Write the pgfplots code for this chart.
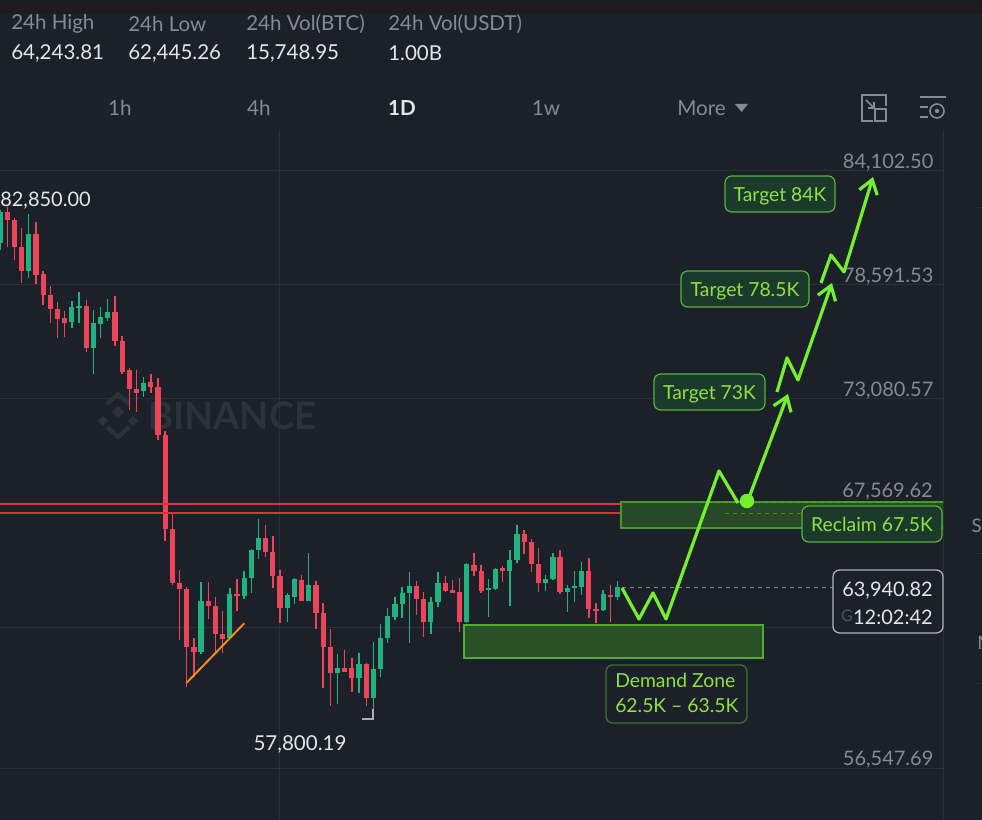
\documentclass[border=0pt]{standalone}
\usepackage{fontspec}
\setmainfont{Lato}
\usepackage{pgfplots}
\usepackage{pgfplotstable}
\pgfplotsset{compat=1.18}
\usetikzlibrary{arrows.meta}
\definecolor{bgc}{HTML}{1B2029}
\definecolor{strip}{HTML}{1C1C1F}
\definecolor{gridc}{HTML}{2A2F38}
\definecolor{axt}{HTML}{858A93}
\definecolor{wht}{HTML}{E4E6E9}
\definecolor{cred}{HTML}{EC4458}
\definecolor{cgreen}{HTML}{22B180}
\definecolor{lime}{HTML}{74F02E}
\definecolor{limet}{HTML}{8FE33E}
\definecolor{zonef}{HTML}{2B5A27}
\definecolor{zoned}{HTML}{5FCB3A}
\definecolor{boxf}{HTML}{1C3A2C}
\definecolor{boxd}{HTML}{55B53A}
\definecolor{wm}{HTML}{2C323B}
\definecolor{redl}{HTML}{DC3539}
\pgfplotstableread{
x open high low close
0 80622 82217 80284 82120
28.7 79269 82024 78930 81057
71.8 76803 77818 76513 77528
79 77480 78253 76755 77576
93.3 75546 77383 74289 76755
100.5 76707 77528 76030 77045
107.7 76997 77915 76851 77287
143.6 73468 74144 73178 73854
201 60851 64234 60754 63316
229.8 61527 63945 61527 63654
244.1 63558 64766 63413 64428
251.3 64428 65830 63703 65782
258.5 65782 67280 65347 66362
287.2 62978 63703 62301 63606
294.4 63510 64428 63171 64380
308.7 63316 65636 63316 64090
337.5 59836 60754 58338 60078
359 59594 60803 58869 60271
373.4 58627 61334 57612 60029
380.5 60029 62204 59642 61527
387.7 61527 62978 61286 62591
394.9 62543 63510 62398 63171
402.1 63171 63993 62494 63703
409.3 63703 64718 61286 64041
430.8 62301 63510 61721 63268
438 63268 64718 63026 64187
466.7 62301 65153 62253 65105
488.2 63848 64380 62543 63945
495.4 63896 64911 63848 64863
509.8 64766 65782 63075 65298
517 65298 66990 65153 66555
545.7 64187 64573 63799 64380
552.9 64380 65636 64331 65443
567.2 63751 64090 62784 63945
574.4 63945 64766 63268 64041
581.6 63993 65201 63606 64766
603.1 62881 63848 62833 63654
617.5 63510 64283 63365 63993
}\upT
\pgfplotstableread{
x open high low close
7.2 82120 82362 80429 81734
14.4 81734 81831 79800 80429
21.5 80429 81347 78688 79269
35.9 81057 81637 78640 79075
43.1 79123 79269 77625 78108
50.3 78108 78543 76755 77432
57.4 77432 77770 76030 76948
64.6 76997 77335 76078 76755
86.2 77576 77867 75353 75546
114.9 77287 78060 75643 75885
122.1 75885 76127 74289 74386
129.2 74483 74579 72549 73564
136.4 73564 74483 72453 73371
150.8 73903 74289 73371 73661
158 73661 74096 71099 71341
165.1 71341 71534 66217 66797
172.3 66797 67522 64090 64187
179.5 64187 64815 61431 63896
186.7 63896 63993 59159 61093
193.9 61093 61527 59642 60851
208.2 63316 64234 62446 63075
215.4 63075 63510 60803 61721
222.6 61721 62833 60803 61479
236.9 63654 64380 62833 63558
265.7 66362 66990 65443 65685
272.8 65685 66458 63945 64525
280 64525 64815 62253 62978
301.6 64331 64573 63316 63316
315.9 64090 64283 61963 62736
323.1 62736 63220 59111 61093
330.3 61093 61963 58241 59836
344.6 60078 60948 59884 59884
351.8 60078 60561 58917 59594
366.2 60271 60319 58241 58627
416.4 64041 64283 62639 63413
423.6 63413 63751 61576 62301
445.2 64187 64525 63751 63799
452.3 63848 64331 63703 63703
459.5 63751 64428 61818 62301
473.9 65057 65636 64525 64766
481.1 64766 65057 63703 63799
502.6 64911 65008 64234 64766
524.1 66555 66748 65588 66168
531.3 66168 66313 64718 65105
538.5 65105 65878 63751 64187
560 65443 65782 63654 63751
588.8 64766 65395 62494 62929
595.9 62929 63220 62253 62833
610.3 63606 64090 62301 63510
}\downT
\begin{document}
\begin{tikzpicture}
\useasboundingbox (0,0) rectangle (736.5pt,615pt);
\clip (0,0) rectangle (736.5pt,615pt);
\begin{scope}[shift={(0,615pt)},x=0.75pt,y=-0.75pt]
\fill[bgc] (0,0) rectangle (982,820);
\fill[strip] (0,0) rectangle (982,14);
\draw[gridc,line width=0.75pt] (943,130) -- (943,820);
% watermark
\node[anchor=west,inner sep=0,text=wm,font=\fontsize{28.4pt}{28.4pt}\selectfont\bfseries] at (148,416) {BINANCE};
\fill[wm] (118,406) -- (124,412) -- (118,418) -- (112,412) -- cycle;
\fill[wm] (103,416) -- (108,421) -- (103,426) -- (98,421) -- cycle;
\fill[wm] (133,416) -- (138,421) -- (133,426) -- (128,421) -- cycle;
\draw[wm,line width=3.2pt] (107,404) -- (118,394) -- (129,404);
\draw[wm,line width=3.2pt] (107,427) -- (118,437) -- (129,427);
\end{scope}
\begin{axis}[
  at={(0,0)},anchor=south west,
  scale only axis,width=707.25pt,height=517.5pt,
  xmin=0,xmax=943,ymin=52729.8,ymax=86084.4,
  scaled y ticks=false,
  axis line style={draw=none},
  major tick length=0pt,
  xtick={279},xticklabels={},
  ytick={84102.5,78591.53,73080.57,62058,55243},
  yticklabels={{84,102.50},{78,591.53},{73,080.57},{},{56,547.69}},
  yticklabel pos=right,
  yticklabel style={anchor=east,inner sep=0pt,xshift=-7pt,yshift=6pt,text=axt,font=\fontsize{15pt}{15pt}\selectfont},
  grid=major,grid style={gridc,line width=0.75pt},
  clip=true,
]
% candles
\addplot[draw=none,mark=none,error bars/.cd,y dir=plus,y explicit,error mark=none,error bar style={cgreen,line width=1.05pt}]
  table[x=x,y=low,y error plus expr=\thisrow{high}-\thisrow{low}] {\upT};
\addplot[draw=none,mark=none,error bars/.cd,y dir=plus,y explicit,error mark=none,error bar style={cgreen,line width=3.9pt}]
  table[x=x,y=open,y error plus expr=\thisrow{close}-\thisrow{open}] {\upT};
\addplot[draw=none,mark=none,error bars/.cd,y dir=plus,y explicit,error mark=none,error bar style={cred,line width=1.05pt}]
  table[x=x,y=low,y error plus expr=\thisrow{high}-\thisrow{low}] {\downT};
\addplot[draw=none,mark=none,error bars/.cd,y dir=plus,y explicit,error mark=none,error bar style={cred,line width=3.9pt}]
  table[x=x,y=close,y error plus expr=\thisrow{open}-\thisrow{close}] {\downT};
% red levels
\addplot[redl,line width=1.5pt] coordinates {(0,68005)(621,68005)};
\addplot[redl,line width=1.5pt] coordinates {(0,67546)(621,67546)};
% last price
\addplot[axt,dashed,line width=0.75pt] coordinates {(622,63945)(833,63945)};
% low bracket
\addplot[axt!70!white,line width=0.9pt] coordinates {(362,57612)(373,57612)(373,58100)};
% trend
\addplot[orange!85!yellow,line width=1.4pt] coordinates {(186.7,59367)(244.3,62238)};
% zones
\addplot[draw=zoned!85!black,fill=zonef,fill opacity=0.85,line width=0.8pt] coordinates {(464,62156)(763,62156)(763,60561)(464,60561)} -- cycle;
\addplot[draw=zoned!75!black,fill=zonef,fill opacity=0.72,line width=0.8pt] coordinates {(621,68102)(945,68102)(945,66845)(621,66845)} -- cycle;
\addplot[orange!70!black,dashed,line width=1.2pt] coordinates {(725,67546)(943,67546)};
\addplot[lime!70!black,dashed,line width=1.1pt] coordinates {(700,68080)(943,68080)};
% paths
\addplot[lime,line width=2.4pt,line join=round] coordinates {(622,63945)(639,62446)(653,63703)(666,62446)(719,69600)(738,68054)};
\addplot[lime,line width=2.4pt,line join=round,-{Straight Barb[length=10pt,width=14pt,line width=2.4pt]}] coordinates {(750,68440)(788,73323)};
\addplot[lime,line width=2.4pt,line join=round,-{Straight Barb[length=10pt,width=14pt,line width=2.4pt]}] coordinates {(777,73419)(787,75063)(798,73999)(832,78688)};
\addplot[lime,line width=2.4pt,line join=round,-{Straight Barb[length=10pt,width=14pt,line width=2.4pt]}] coordinates {(821,78688)(831,80042)(844,79220)(873,83812)};
\addplot[only marks,mark=*,mark size=5.2pt,mark options={fill=lime,draw=lime}] coordinates {(747,68150)};
\end{axis}
\begin{scope}[shift={(0,615pt)},x=0.75pt,y=-0.75pt]
\tikzset{
  hd/.style={anchor=west,inner sep=0,text=axt,font=\fontsize{15.4pt}{15.4pt}\selectfont},
  vl/.style={anchor=west,inner sep=0,text=wht,font=\fontsize{15.4pt}{15.4pt}\selectfont},
  tf/.style={anchor=center,inner sep=0,text=axt,font=\fontsize{15.5pt}{15.5pt}\selectfont},
  tgt/.style={rounded corners=5pt,fill=boxf,draw=boxd,line width=0.9pt},
  gt/.style={inner sep=0,text=limet,font=\fontsize{14.5pt}{14.5pt}\selectfont},
}
\node[anchor=east,inner sep=0,text=axt,font=\fontsize{15pt}{15pt}\selectfont] at (933,492) {67,569.62};
% header
\node[hd] at (11,24) {24h High};
\node[hd] at (128,24) {24h Low};
\node[hd] at (246,24) {24h Vol(BTC)};
\node[hd] at (388,24) {24h Vol(USDT)};
\node[vl] at (11,53) {64,243.81};
\node[vl] at (128,53) {62,445.26};
\node[vl] at (246,53) {15,748.95};
\node[vl] at (388,53) {1.00B};
% timeframes
\node[tf] at (120,108) {1h};
\node[tf] at (259,108) {4h};
\node[tf,text=wht,font=\fontsize{15.5pt}{15.5pt}\selectfont\bfseries] at (402,108) {1D};
\node[tf] at (546,108) {1w};
\node[tf,anchor=west] at (677,108) {More};
\fill[axt] (735,104) -- (748,104) -- (741.5,112) -- cycle;
% icons
\draw[axt,line width=1.2pt] (886,106) -- (886,95) -- (862,95) -- (862,121) -- (873,121);
\draw[axt,line width=1.2pt] (875,109) rectangle (886,121);
\draw[axt,line width=1.2pt] (866,100) -- (874,108) (868,108) -- (874,108) -- (874,102);
\draw[axt,line width=1.2pt] (920,97) -- (946,97);
\draw[axt,line width=1.2pt] (920,107) -- (928,107) (920,117) -- (928,117);
\draw[axt,line width=1.2pt] (937,111) circle (7);
\fill[axt] (937,111) circle (2.2);
% side
\node[anchor=east,inner sep=0,text=axt,font=\fontsize{14pt}{14pt}\selectfont] at (982,526) {S};
\node[anchor=west,inner sep=0,text=axt,font=\fontsize{14pt}{14pt}\selectfont] at (977,643) {M};
\draw[gridc,line width=0.75pt] (975,208) -- (982,208) (975,554) -- (982,554) (975,684) -- (982,684);
% texts
\node[anchor=west,inner sep=0,text=wht,font=\fontsize{15pt}{15pt}\selectfont] at (0,201) {82,850.00};
\node[anchor=center,inner sep=0,text=wht,font=\fontsize{15.4pt}{15.4pt}\selectfont] at (300,744) {57,800.19};
% boxes
\draw[tgt] (725,176) rectangle (835,212);
\node[gt] at (780,196) {Target 84K};
\draw[tgt] (681,271) rectangle (809,307);
\node[gt] at (745,291) {Target 78.5K};
\draw[tgt] (654,374) rectangle (765,410);
\node[gt] at (709.5,394) {Target 73K};
\draw[tgt] (802,506) rectangle (942,542);
\node[gt] at (872,524) {Reclaim 67.5K};
\draw[rounded corners=5pt,fill=bgc,draw=boxd!55!bgc,line width=1pt] (606,665) rectangle (747,723);
\node[gt,anchor=west] at (615,680) {Demand Zone};
\node[gt,anchor=west] at (615,706) {62.5K – 63.5K};
\draw[rounded corners=5pt,fill=bgc,draw=white!65!bgc,line width=1pt] (833,570) rectangle (943,633);
\node[anchor=east,inner sep=0,text=wht,font=\fontsize{15pt}{15pt}\selectfont] at (933,591) {63,940.82};
\node[anchor=east,inner sep=0,text=wht,font=\fontsize{15pt}{15pt}\selectfont] at (933,617) {12:02:42};
\node[anchor=center,inner sep=0,text=axt!50!bgc,font=\fontsize{12pt}{12pt}\selectfont] at (847,616) {G};
\end{scope}
\end{tikzpicture}
\end{document}
